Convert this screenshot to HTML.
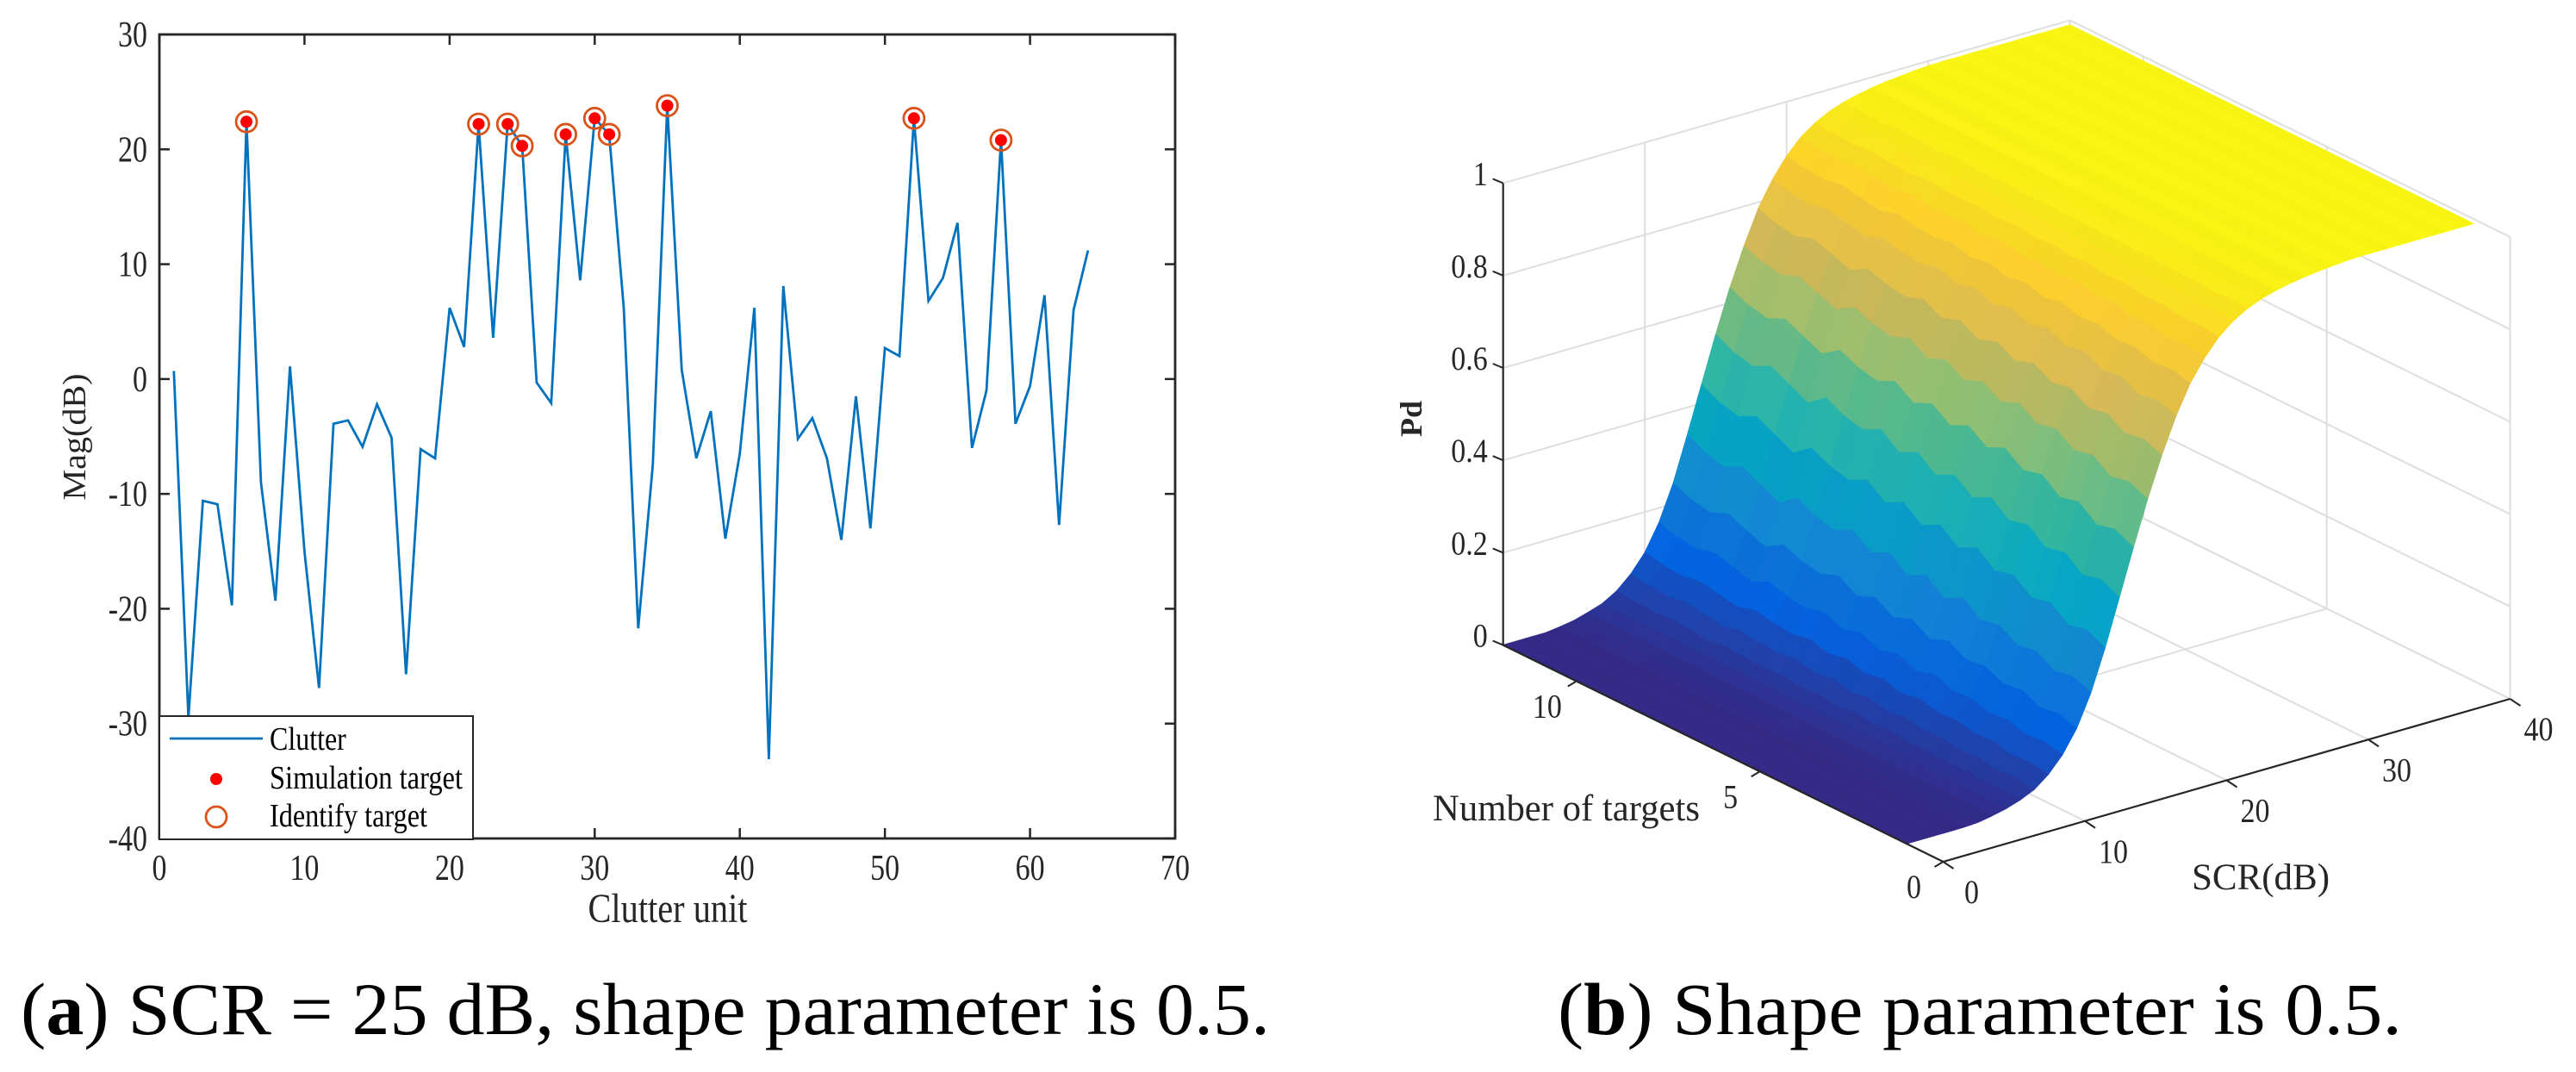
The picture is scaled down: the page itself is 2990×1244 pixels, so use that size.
<!DOCTYPE html>
<html><head><meta charset="utf-8"><style>
body{margin:0;background:#fff;}
svg{display:block;}
text{font-family:"Liberation Serif","Times New Roman",serif;}
</style></head><body>
<svg id="fig" width="2990" height="1244" viewBox="0 0 2990 1244" xmlns="http://www.w3.org/2000/svg">
<rect width="2990" height="1244" fill="#fff"/>
<g id="left"></g>
<g id="right"></g>
<text transform="translate(24,1200) scale(1,1.3)" font-family="Liberation Serif, serif" font-size="66" textLength="1450" lengthAdjust="spacingAndGlyphs">(<tspan font-weight="bold">a</tspan>) SCR = 25 dB, shape parameter is 0.5.</text>
<text transform="translate(1808,1200) scale(1,1.3)" font-family="Liberation Serif, serif" font-size="66" textLength="980" lengthAdjust="spacingAndGlyphs">(<tspan font-weight="bold">b</tspan>) Shape parameter is 0.5.</text>
</svg>
<script>
const clutterValues=[0.7,-29.5,-10.6,-10.9,-19.7,22.4,-9,-19.3,1.1,-15,-26.9,-3.9,-3.6,-5.9,-2.2,-5.1,-25.7,-6.1,-6.9,6.2,2.8,22.2,3.6,22.2,20.3,-0.3,-2.1,21.3,8.6,22.7,21.3,6.2,-21.7,-7.5,23.8,0.8,-6.9,-2.8,-13.9,-6.5,6.2,-33.1,8.1,-5.2,-3.4,-6.9,-14,-1.5,-13,2.7,2,22.7,6.8,8.8,13.6,-6,-1,20.8,-3.9,-0.6,7.3,-12.7,6,11.2];
const targetUnits=[6,22,24,25,28,30,31,35,52,58];
const xTicks=[0,10,20,30,40,50,60,70];
const yTicks=[-40,-30,-20,-10,0,10,20,30];
const pdBySCR=[0,0,0,0,0,0.005,0.01,0.02,0.03,0.05,0.08,0.12,0.18,0.26,0.36,0.46,0.56,0.65,0.73,0.8,0.85,0.89,0.92,0.94,0.955,0.965,0.972,0.978,0.982,0.985,0.988,0.99,0.99,0.99,0.99,0.99,0.99,0.99,0.99,0.99,0.99];
const targetCounts=[1,1.5,2,2.5,3,3.5,4,4.5,5,5.5,6,6.5,7,7.5,8,8.5,9,9.5,10,10.5,11,11.5,12];
const rowShiftDB=[0.6,0.4,0.5,0.2,0.3,0,0.1,-0.2,0,-0.3,-0.1,-0.4,-0.2,-0.5,-0.3,-0.4,-0.6,-0.3,-0.5,-0.7,-0.5,-0.6,-0.8];
const pdTicks=[0,0.2,0.4,0.6,0.8,1];
const nTicks=[0,5,10];
const scrTicks=[0,10,20,30,40];

const NS="http://www.w3.org/2000/svg";
function mk(parent,tag,attrs,text){const e=document.createElementNS(NS,tag);for(const k in attrs)e.setAttribute(k,attrs[k]);if(text!==undefined)e.textContent=text;parent.appendChild(e);return e;}
function txt(parent,x,y,str,size,anchor,sy,extra){
  const a={transform:'translate('+x+','+y+') scale(1,'+(sy||1.25)+')','font-size':size,'text-anchor':anchor||'start',fill:'#262626','font-family':'Liberation Serif, serif'};
  if(extra)for(const k in extra)a[k]=extra[k];
  return mk(parent,'text',a,str);
}

const L=document.getElementById('left');
const X0=185,X1=1364,Y0=40,Y1=973;
const sx=v=>X0+v/70*(X1-X0);
const sy=v=>Y0+(30-v)/70*(Y1-Y0);
let d='';
clutterValues.forEach((v,i)=>{d+=(i?'L':'M')+sx(i+1).toFixed(1)+' '+sy(v).toFixed(1);});
let e=mk(L,'path',{d:d,fill:'none',stroke:'#0072bd','stroke-width':2.8});

targetUnits.forEach(u=>{
  const v=clutterValues[u-1];
  let c=mk(L,'circle',{cx:sx(u),cy:sy(v),r:12,fill:'none',stroke:'#d95319','stroke-width':2.8});
  
  let p=mk(L,'circle',{cx:sx(u),cy:sy(v),r:7,fill:'#ff0000'});
  
});
e=mk(L,'rect',{x:X0,y:Y0,width:X1-X0,height:Y1-Y0,fill:'none',stroke:'#262626','stroke-width':2.8});

xTicks.forEach(t=>{
  mk(L,'line',{x1:sx(t),x2:sx(t),y1:Y1,y2:Y1-12,stroke:'#262626','stroke-width':2.5});
  mk(L,'line',{x1:sx(t),x2:sx(t),y1:Y0,y2:Y0+12,stroke:'#262626','stroke-width':2.5});
  let tx=txt(L,sx(t),Y1+48,String(t),34,'middle');
  
});
yTicks.forEach(t=>{
  mk(L,'line',{x1:X0,x2:X0+12,y1:sy(t),y2:sy(t),stroke:'#262626','stroke-width':2.5});
  mk(L,'line',{x1:X1,x2:X1-12,y1:sy(t),y2:sy(t),stroke:'#262626','stroke-width':2.5});
  let tx=txt(L,X0-14,sy(t)+14,String(t),34,'end');
  
});
e=txt(L,775,1070,'Clutter unit',38,'middle',1.25,{textLength:185,lengthAdjust:'spacingAndGlyphs'});

e=mk(L,'text',{x:0,y:0,'font-size':38,'text-anchor':'middle',fill:'#262626','font-family':'Liberation Serif, serif',transform:'translate(99,507) rotate(-90)',textLength:147,lengthAdjust:'spacingAndGlyphs'},'Mag(dB)');

const lg=mk(L,'g',{});

mk(lg,'rect',{x:185,y:831,width:364,height:143,fill:'#fff',stroke:'#262626','stroke-width':2});
mk(lg,'line',{x1:197,x2:305,y1:857,y2:857,stroke:'#0072bd','stroke-width':2.8});
txt(lg,313,870,'Clutter',32,'start',1.2,{fill:'#000'});
mk(lg,'circle',{cx:251,cy:904,r:7,fill:'#ff0000'});
txt(lg,313,915,'Simulation target',32,'start',1.2,{fill:'#000',textLength:224,lengthAdjust:'spacingAndGlyphs'});
mk(lg,'circle',{cx:251,cy:948,r:12,fill:'none',stroke:'#d95319','stroke-width':2.8});
txt(lg,313,959,'Identify target',32,'start',1.2,{fill:'#000',textLength:183,lengthAdjust:'spacingAndGlyphs'});

const R=document.getElementById('right');
const OX=2255.5,OY=1000;
function P(s,n,z){return [OX+s/40*658-n/12*510.8, OY-s/40*189-n/12*251.4-z*536];}
function line3(a,b,st,w,name){const p=P(...a),q=P(...b);let l=mk(R,'line',{x1:p[0],y1:p[1],x2:q[0],y2:q[1],stroke:st,'stroke-width':w});return l;}
const G='#dedede';
pdTicks.forEach(z=>{line3([0,12,z],[40,12,z],G,2,'grid-line');line3([40,12,z],[40,0,z],G,2,'grid-line');});
scrTicks.forEach(s=>{line3([s,12,0],[s,12,1],G,2,'grid-line');line3([s,0,0],[s,12,0],G,2,'grid-line');});
nTicks.concat([12]).forEach(n=>{line3([40,n,0],[40,n,1],G,2,'grid-line');line3([0,n,0],[40,n,0],G,2,'grid-line');});
const stops=[[53,42,135],[3,99,225],[20,133,212],[6,167,198],[56,185,158],[146,191,115],[217,186,86],[252,206,46],[249,251,14]];
function parula(t,sh){t=Math.max(0,Math.min(1,t))*(stops.length-1);const i=Math.min(stops.length-2,Math.floor(t)),f=t-i;const a=stops[i],b=stops[i+1];return 'rgb('+a.map((v,k)=>Math.max(0,Math.min(255,Math.round((v+(b[k]-v)*f)*sh)))).join(',')+')';}
function pdAt(col,row){let s=col-rowShiftDB[row];s=Math.max(0,Math.min(40,s));const i=Math.min(39,Math.floor(s)),f=s-i;return pdBySCR[i]+(pdBySCR[i+1]-pdBySCR[i])*f;}
const quads=[];
for(let r=0;r<targetCounts.length-1;r++)for(let c=0;c<pdBySCR.length-1;c++){
  const n0=targetCounts[r],n1=targetCounts[r+1];
  const z00=pdAt(c,r),z10=pdAt(c+1,r),z11=pdAt(c+1,r+1),z01=pdAt(c,r+1);
  quads.push({depth:c/40+n0/12,pts:[P(c,n0,z00),P(c+1,n0,z10),P(c+1,n1,z11),P(c,n1,z01)],z:(z00+z10+z11+z01)/4,sh:(c%2?0.985:1.0)});
}
quads.sort((a,b)=>b.depth-a.depth);
const sg=mk(R,'g',{});

quads.forEach(q=>{const col=parula(q.z,q.sh);
  let pg=mk(sg,'polygon',{points:q.pts.map(p=>p[0].toFixed(1)+','+p[1].toFixed(1)).join(' '),fill:col,stroke:col,'stroke-width':1.2,'stroke-linejoin':'round'});
  
});
const A='#262626';
line3([0,12,0],[0,12,1],A,2.2,'pd-axis');
line3([0,0,0],[0,12,0],A,2.2,'n-axis');
line3([0,0,0],[40,0,0],A,2.2,'scr-axis');
pdTicks.forEach(z=>{const p=P(0,12,z);mk(R,'line',{x1:p[0]-12,y1:p[1]-5,x2:p[0],y2:p[1],stroke:A,'stroke-width':2});
  let t=txt(R,p[0]-18,p[1]+2,String(z),34,'end',1.15);
  });
nTicks.forEach(n=>{const p=P(0,n,0);mk(R,'line',{x1:p[0],y1:p[1],x2:p[0]-10,y2:p[1]+6,stroke:A,'stroke-width':2});
  let t=txt(R,p[0]-34,p[1]+42,String(n),34,'middle',1.15);
  });
scrTicks.forEach(s=>{const p=P(s,0,0);mk(R,'line',{x1:p[0],y1:p[1],x2:p[0]+12,y2:p[1]+8,stroke:A,'stroke-width':2});
  let t=txt(R,p[0]+33,p[1]+48,String(s),34,'middle',1.15);
  });
e=mk(R,'text',{x:0,y:0,'font-size':36,'font-weight':'bold','text-anchor':'middle',fill:'#262626','font-family':'Liberation Serif, serif',transform:'translate(1650,486) rotate(-90)'},'Pd');

e=txt(R,1818,952,'Number of targets',38,'middle',1.15,{textLength:310,lengthAdjust:'spacingAndGlyphs'});

e=txt(R,2624,1032,'SCR(dB)',38,'middle',1.15,{textLength:160,lengthAdjust:'spacingAndGlyphs'});

</script>
</body></html>
